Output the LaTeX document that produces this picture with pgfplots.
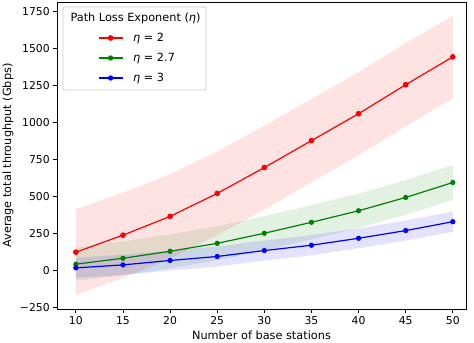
\documentclass[border=0pt]{standalone}
\usepackage{pgfplots}
\pgfplotsset{compat=1.18}
\usepackage{fontspec}
\setmainfont{DejaVu Sans}
\definecolor{mred}{RGB}{255,0,0}
\definecolor{mgreen}{RGB}{0,128,0}
\definecolor{mblue}{RGB}{0,0,255}
\begin{document}
\fontsize{11bp}{13bp}\selectfont
\begin{tikzpicture}
\begin{axis}[
  scale only axis, width=409bp, height=307bp,
  xmin=8, xmax=51.4, ymin=-259, ymax=1816,
  xtick={10,15,...,50},
  ytick={-250,0,250,500,750,1000,1250,1500,1750},
  yticklabels={−250,0,250,500,750,1000,1250,1500,1750},
  tick align=outside, tick pos=left, major tick length=3.5bp,
  every tick/.style={black, line width=0.8bp},
  axis line style={line width=0.8bp},
  /pgf/number format/assume math mode=true,
  ticklabel style={font=\fontsize{10.8bp}{13bp}\selectfont},
  label style={font=\fontsize{11.3bp}{13bp}\selectfont},
  xlabel={Number of base stations},
  ylabel={Average total throughput (Gbps)},
  xlabel style={yshift=1bp},
  ylabel style={yshift=-1bp},
  legend image code/.code={%
    \draw[#1, mark=none] (0bp,0bp) -- (24bp,0bp);
    \draw[#1, only marks] plot coordinates {(12bp,0bp)};},
  legend style={at={(axis description cs:0.1002,0.9153)}, anchor=north west,
    draw=none, fill=none, inner sep=0pt, outer sep=0pt, row sep=0pt, column sep=10bp,
    nodes={inner sep=0pt, minimum height=20bp, anchor=west},
    font=\fontsize{11.3bp}{13bp}\selectfont},
  legend cell align=left,
]
% shaded bands (mean +/- std)
\addplot[draw=none, fill=mred, fill opacity=0.11, forget plot] coordinates {
 (10,415)(15,528)(20,652)(25,805)(30,980)(35,1160)(40,1342)(45,1538)(50,1722)
 (50,1164)(45,976)(40,780)(35,598)(30,414)(25,239)(20,82)(15,-48)(10,-165)};
\addplot[draw=none, fill=mgreen, fill opacity=0.11, forget plot] coordinates {
 (10,156)(15,198)(20,246)(25,300)(30,369)(35,443)(40,521)(45,612)(50,714)
 (50,478)(45,378)(40,289)(35,211)(30,137)(25,70)(20,16)(15,-30)(10,-68)};
\addplot[draw=none, fill=mblue, fill opacity=0.11, forget plot] coordinates {
 (10,87)(15,107)(20,137)(25,164)(30,204)(35,240)(40,287)(45,339)(50,399)
 (50,263)(45,203)(40,151)(35,104)(30,68)(25,28)(20,1)(15,-29)(10,-49)};
% mean curves
\addplot[mred, line width=1.2bp, mark=*, mark size=2.2bp] coordinates {
 (10,125)(15,240)(20,367)(25,522)(30,697)(35,879)(40,1061)(45,1257)(50,1445)};
\addlegendentry{\textit{η} = 2}
\addplot[mgreen, line width=1.2bp, mark=*, mark size=2bp] coordinates {
 (10,44)(15,84)(20,131)(25,185)(30,253)(35,327)(40,405)(45,495)(50,596)};
\addlegendentry{\textit{η} = 2.7}
\addplot[mblue, line width=1.2bp, mark=*, mark size=2bp] coordinates {
 (10,19)(15,39)(20,69)(25,96)(30,136)(35,172)(40,219)(45,271)(50,331)};
\addlegendentry{\textit{η} = 3}
% legend frame and title
\draw[draw=black!20, fill=white, fill opacity=0.8, rounded corners=2bp, line width=0.8bp]
  ([xshift=6bp,yshift=219bp]rel axis cs:0,0) rectangle ([xshift=149bp,yshift=302bp]rel axis cs:0,0);
\node[font=\fontsize{11.3bp}{13bp}\selectfont, inner sep=0pt] at ([xshift=78.5bp,yshift=291bp]rel axis cs:0,0) {Path Loss Exponent (\textit{η})};
\end{axis}
\pgfresetboundingbox
\path ([shift={(-57bp,-34bp)}]current axis.south west) rectangle ([shift={(8bp,2bp)}]current axis.north east);
\end{tikzpicture}
\end{document}
